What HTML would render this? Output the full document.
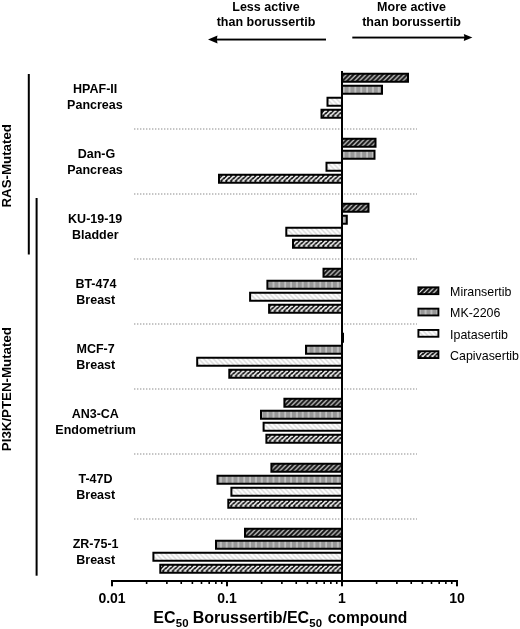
<!DOCTYPE html>
<html><head><meta charset="utf-8"><title>EC50 Borussertib chart</title>
<style>html,body{margin:0;padding:0;background:#fff;}svg{display:block;}</style></head>
<body><svg width="520" height="629" viewBox="0 0 520 629">
<rect width="520" height="629" fill="#fff"/>
<defs>
<pattern id="pm" patternUnits="userSpaceOnUse" x="3.85" width="4.85" height="4.85"><rect width="4.85" height="4.85" fill="#121212"/><path d="M-1,1 L1,-1 M0,4.85 L4.85,0 M3.8499999999999996,5.85 L5.85,3.8499999999999996" stroke="#f4f4f4" stroke-width="1.15"/></pattern>
<pattern id="pk" patternUnits="userSpaceOnUse" x="1.4" width="5.85" height="10"><rect width="5.85" height="10" fill="#979797"/><rect x="2.2" width="1.6" height="10" fill="#c6c6c6"/></pattern>
<pattern id="pi" patternUnits="userSpaceOnUse" width="4.85" height="4.85"><rect width="4.85" height="4.85" fill="#ffffff"/><path d="M-1,3.8499999999999996 L1,5.85 M0,0 L4.85,4.85 M3.8499999999999996,-1 L5.85,1" stroke="#d8d8d8" stroke-width="1.4"/></pattern>
<pattern id="pc" patternUnits="userSpaceOnUse" width="4.85" height="65"><rect width="4.85" height="65" fill="#111"/><path d="M-5.25,52.00 L1.75,45.00 M-0.40,52.00 L6.60,45.00 M4.45,52.00 L11.45,45.00" stroke="#ececec" stroke-width="1.6" fill="none"/><path d="M-5.10,49.70 L-2.80,52.00 M-0.25,49.70 L2.05,52.00 M-0.10,45.00 L1.80,46.90 M4.60,49.70 L6.90,52.00 M4.75,45.00 L6.65,46.90" stroke="#ececec" stroke-width="1.2" fill="none"/></pattern>
<pattern id="pcl" patternUnits="userSpaceOnUse" width="4.85" height="65"><rect width="4.85" height="65" fill="#111"/><path d="M-5.25,32.70 L1.75,25.70 M-0.40,32.70 L6.60,25.70 M4.45,32.70 L11.45,25.70" stroke="#ececec" stroke-width="1.4" fill="none"/><path d="M-5.10,30.40 L-2.80,32.70 M-0.25,30.40 L2.05,32.70 M-0.10,25.70 L1.80,27.60 M4.60,30.40 L6.90,32.70 M4.75,25.70 L6.65,27.60" stroke="#ececec" stroke-width="1.1" fill="none"/></pattern>
</defs>
<text x="266" y="11.3" text-anchor="middle" font-family="Liberation Sans, Arial, sans-serif" font-weight="bold" font-size="12.5">Less active</text>
<text x="266" y="26.4" text-anchor="middle" font-family="Liberation Sans, Arial, sans-serif" font-weight="bold" font-size="12.5">than borussertib</text>
<text x="411.5" y="11.3" text-anchor="middle" font-family="Liberation Sans, Arial, sans-serif" font-weight="bold" font-size="12.5">More active</text>
<text x="411.5" y="26.4" text-anchor="middle" font-family="Liberation Sans, Arial, sans-serif" font-weight="bold" font-size="12.5">than borussertib</text>
<rect x="215" y="38.6" width="111" height="1.9" fill="#000"/>
<path d="M208,39.5 L217.5,35.6 Q216,39.5 217.5,43.4 Z" fill="#000"/>
<rect x="352.3" y="36.6" width="113" height="1.9" fill="#000"/>
<path d="M472.4,37.5 L463.8,34.1 Q465.2,37.5 463.8,40.9 Z" fill="#000"/>
<line x1="134" y1="129" x2="417" y2="129" stroke="#8c8c8c" stroke-width="1.1" stroke-dasharray="1.4 1.6"/>
<line x1="134" y1="194" x2="417" y2="194" stroke="#8c8c8c" stroke-width="1.1" stroke-dasharray="1.4 1.6"/>
<line x1="134" y1="259" x2="417" y2="259" stroke="#8c8c8c" stroke-width="1.1" stroke-dasharray="1.4 1.6"/>
<line x1="134" y1="324" x2="417" y2="324" stroke="#8c8c8c" stroke-width="1.1" stroke-dasharray="1.4 1.6"/>
<line x1="134" y1="389" x2="417" y2="389" stroke="#8c8c8c" stroke-width="1.1" stroke-dasharray="1.4 1.6"/>
<line x1="134" y1="454" x2="417" y2="454" stroke="#8c8c8c" stroke-width="1.1" stroke-dasharray="1.4 1.6"/>
<line x1="134" y1="519" x2="417" y2="519" stroke="#8c8c8c" stroke-width="1.1" stroke-dasharray="1.4 1.6"/>
<rect x="342.00" y="73.75" width="66.00" height="8.00" fill="url(#pm)" stroke="#000" stroke-width="2.0"/>
<rect x="342.00" y="85.75" width="40.00" height="8.00" fill="url(#pk)" stroke="#000" stroke-width="2.0"/>
<rect x="327.50" y="97.75" width="14.50" height="8.00" fill="url(#pi)" stroke="#000" stroke-width="2.0"/>
<rect x="321.50" y="109.75" width="20.50" height="8.00" fill="url(#pc)" stroke="#000" stroke-width="2.0"/>
<rect x="342.00" y="138.75" width="33.50" height="8.00" fill="url(#pm)" stroke="#000" stroke-width="2.0"/>
<rect x="342.00" y="150.75" width="32.50" height="8.00" fill="url(#pk)" stroke="#000" stroke-width="2.0"/>
<rect x="326.50" y="162.75" width="15.50" height="8.00" fill="url(#pi)" stroke="#000" stroke-width="2.0"/>
<rect x="219.00" y="174.75" width="123.00" height="8.00" fill="url(#pc)" stroke="#000" stroke-width="2.0"/>
<rect x="342.00" y="203.75" width="26.50" height="8.00" fill="url(#pm)" stroke="#000" stroke-width="2.0"/>
<rect x="342.00" y="215.75" width="4.80" height="8.00" fill="url(#pk)" stroke="#000" stroke-width="2.0"/>
<rect x="286.30" y="227.75" width="55.70" height="8.00" fill="url(#pi)" stroke="#000" stroke-width="2.0"/>
<rect x="293.00" y="239.75" width="49.00" height="8.00" fill="url(#pc)" stroke="#000" stroke-width="2.0"/>
<rect x="323.50" y="268.75" width="18.50" height="8.00" fill="url(#pm)" stroke="#000" stroke-width="2.0"/>
<rect x="267.40" y="280.75" width="74.60" height="8.00" fill="url(#pk)" stroke="#000" stroke-width="2.0"/>
<rect x="250.10" y="292.75" width="91.90" height="8.00" fill="url(#pi)" stroke="#000" stroke-width="2.0"/>
<rect x="269.10" y="304.75" width="72.90" height="8.00" fill="url(#pc)" stroke="#000" stroke-width="2.0"/>
<rect x="341.00" y="332.75" width="3.00" height="10.00" fill="#000"/>
<rect x="306.00" y="345.75" width="36.00" height="8.00" fill="url(#pk)" stroke="#000" stroke-width="2.0"/>
<rect x="197.20" y="357.75" width="144.80" height="8.00" fill="url(#pi)" stroke="#000" stroke-width="2.0"/>
<rect x="229.30" y="369.75" width="112.70" height="8.00" fill="url(#pc)" stroke="#000" stroke-width="2.0"/>
<rect x="284.40" y="398.75" width="57.60" height="8.00" fill="url(#pm)" stroke="#000" stroke-width="2.0"/>
<rect x="261.00" y="410.75" width="81.00" height="8.00" fill="url(#pk)" stroke="#000" stroke-width="2.0"/>
<rect x="263.60" y="422.75" width="78.40" height="8.00" fill="url(#pi)" stroke="#000" stroke-width="2.0"/>
<rect x="266.40" y="434.75" width="75.60" height="8.00" fill="url(#pc)" stroke="#000" stroke-width="2.0"/>
<rect x="271.40" y="463.75" width="70.60" height="8.00" fill="url(#pm)" stroke="#000" stroke-width="2.0"/>
<rect x="217.50" y="475.75" width="124.50" height="8.00" fill="url(#pk)" stroke="#000" stroke-width="2.0"/>
<rect x="231.40" y="487.75" width="110.60" height="8.00" fill="url(#pi)" stroke="#000" stroke-width="2.0"/>
<rect x="228.30" y="499.75" width="113.70" height="8.00" fill="url(#pc)" stroke="#000" stroke-width="2.0"/>
<rect x="245.00" y="528.75" width="97.00" height="8.00" fill="url(#pm)" stroke="#000" stroke-width="2.0"/>
<rect x="216.00" y="540.75" width="126.00" height="8.00" fill="url(#pk)" stroke="#000" stroke-width="2.0"/>
<rect x="153.40" y="552.75" width="188.60" height="8.00" fill="url(#pi)" stroke="#000" stroke-width="2.0"/>
<rect x="160.30" y="564.75" width="181.70" height="8.00" fill="url(#pc)" stroke="#000" stroke-width="2.0"/>
<rect x="341" y="71" width="2" height="511" fill="#000"/>
<rect x="111" y="580" width="347" height="2" fill="#000"/>
<rect x="111.00" y="580" width="2" height="6.3" fill="#000"/>
<rect x="145.82" y="581" width="1.6" height="3" fill="#000"/>
<rect x="166.07" y="581" width="1.6" height="3" fill="#000"/>
<rect x="180.44" y="581" width="1.6" height="3" fill="#000"/>
<rect x="191.58" y="581" width="1.6" height="3" fill="#000"/>
<rect x="200.69" y="581" width="1.6" height="3" fill="#000"/>
<rect x="208.39" y="581" width="1.6" height="3" fill="#000"/>
<rect x="215.06" y="581" width="1.6" height="3" fill="#000"/>
<rect x="220.94" y="581" width="1.6" height="3" fill="#000"/>
<rect x="226.00" y="580" width="2" height="6.3" fill="#000"/>
<rect x="260.82" y="581" width="1.6" height="3" fill="#000"/>
<rect x="281.07" y="581" width="1.6" height="3" fill="#000"/>
<rect x="295.44" y="581" width="1.6" height="3" fill="#000"/>
<rect x="306.58" y="581" width="1.6" height="3" fill="#000"/>
<rect x="315.69" y="581" width="1.6" height="3" fill="#000"/>
<rect x="323.39" y="581" width="1.6" height="3" fill="#000"/>
<rect x="330.06" y="581" width="1.6" height="3" fill="#000"/>
<rect x="335.94" y="581" width="1.6" height="3" fill="#000"/>
<rect x="341.00" y="580" width="2" height="6.3" fill="#000"/>
<rect x="375.82" y="581" width="1.6" height="3" fill="#000"/>
<rect x="396.07" y="581" width="1.6" height="3" fill="#000"/>
<rect x="410.44" y="581" width="1.6" height="3" fill="#000"/>
<rect x="421.58" y="581" width="1.6" height="3" fill="#000"/>
<rect x="430.69" y="581" width="1.6" height="3" fill="#000"/>
<rect x="438.39" y="581" width="1.6" height="3" fill="#000"/>
<rect x="445.06" y="581" width="1.6" height="3" fill="#000"/>
<rect x="450.94" y="581" width="1.6" height="3" fill="#000"/>
<rect x="456.00" y="580" width="2" height="6.3" fill="#000"/>
<text x="112.00" y="602.7" text-anchor="middle" font-family="Liberation Sans, Arial, sans-serif" font-weight="bold" font-size="14">0.01</text>
<text x="227.00" y="602.7" text-anchor="middle" font-family="Liberation Sans, Arial, sans-serif" font-weight="bold" font-size="14">0.1</text>
<text x="342.00" y="602.7" text-anchor="middle" font-family="Liberation Sans, Arial, sans-serif" font-weight="bold" font-size="14">1</text>
<text x="457.00" y="602.7" text-anchor="middle" font-family="Liberation Sans, Arial, sans-serif" font-weight="bold" font-size="14">10</text>
<text x="153.3" y="623" font-family="Liberation Sans, Arial, sans-serif" font-weight="bold" font-size="16">EC</text>
<text x="175.8" y="627" font-family="Liberation Sans, Arial, sans-serif" font-weight="bold" font-size="11.4">50</text>
<text x="192.7" y="623" font-family="Liberation Sans, Arial, sans-serif" font-weight="bold" font-size="16">Borussertib/EC</text>
<text x="309.3" y="627" font-family="Liberation Sans, Arial, sans-serif" font-weight="bold" font-size="11.4">50</text>
<text x="327.7" y="623" font-family="Liberation Sans, Arial, sans-serif" font-weight="bold" font-size="15.6">compound</text>
<text x="95.15" y="92.8" text-anchor="middle" font-family="Liberation Sans, Arial, sans-serif" font-weight="bold" font-size="12.5">HPAF-II</text>
<text x="94.9" y="108.5" text-anchor="middle" font-family="Liberation Sans, Arial, sans-serif" font-weight="bold" font-size="12.5">Pancreas</text>
<text x="96.5" y="157.8" text-anchor="middle" font-family="Liberation Sans, Arial, sans-serif" font-weight="bold" font-size="12.5">Dan-G</text>
<text x="95.0" y="173.5" text-anchor="middle" font-family="Liberation Sans, Arial, sans-serif" font-weight="bold" font-size="12.5">Pancreas</text>
<text x="95.2" y="222.8" text-anchor="middle" font-family="Liberation Sans, Arial, sans-serif" font-weight="bold" font-size="12.5">KU-19-19</text>
<text x="95.3" y="238.5" text-anchor="middle" font-family="Liberation Sans, Arial, sans-serif" font-weight="bold" font-size="12.5">Bladder</text>
<text x="95.9" y="287.8" text-anchor="middle" font-family="Liberation Sans, Arial, sans-serif" font-weight="bold" font-size="12.5">BT-474</text>
<text x="95.8" y="303.5" text-anchor="middle" font-family="Liberation Sans, Arial, sans-serif" font-weight="bold" font-size="12.5">Breast</text>
<text x="95.65" y="352.8" text-anchor="middle" font-family="Liberation Sans, Arial, sans-serif" font-weight="bold" font-size="12.5">MCF-7</text>
<text x="95.8" y="368.5" text-anchor="middle" font-family="Liberation Sans, Arial, sans-serif" font-weight="bold" font-size="12.5">Breast</text>
<text x="95.3" y="417.8" text-anchor="middle" font-family="Liberation Sans, Arial, sans-serif" font-weight="bold" font-size="12.5">AN3-CA</text>
<text x="95.6" y="433.5" text-anchor="middle" font-family="Liberation Sans, Arial, sans-serif" font-weight="bold" font-size="12.5">Endometrium</text>
<text x="95.5" y="482.8" text-anchor="middle" font-family="Liberation Sans, Arial, sans-serif" font-weight="bold" font-size="12.5">T-47D</text>
<text x="95.7" y="498.5" text-anchor="middle" font-family="Liberation Sans, Arial, sans-serif" font-weight="bold" font-size="12.5">Breast</text>
<text x="95.6" y="547.8" text-anchor="middle" font-family="Liberation Sans, Arial, sans-serif" font-weight="bold" font-size="12.5">ZR-75-1</text>
<text x="95.75" y="563.5" text-anchor="middle" font-family="Liberation Sans, Arial, sans-serif" font-weight="bold" font-size="12.5">Breast</text>
<rect x="27.8" y="74" width="2" height="180.5" fill="#000"/>
<rect x="35.6" y="198" width="2" height="377.7" fill="#000"/>
<text transform="translate(11.0,165.8) rotate(-90)" text-anchor="middle" font-family="Liberation Sans, Arial, sans-serif" font-weight="bold" font-size="13.3">RAS-Mutated</text>
<text transform="translate(11.1,389.1) rotate(-90)" text-anchor="middle" font-family="Liberation Sans, Arial, sans-serif" font-weight="bold" font-size="13.3">PI3K/PTEN-Mutated</text>
<rect x="418.4" y="287.35" width="20" height="6.8" fill="url(#pm)" stroke="#000" stroke-width="1.9"/>
<text x="450.1" y="295.90" font-family="Liberation Sans, Arial, sans-serif" font-size="12.4">Miransertib</text>
<rect x="418.4" y="308.65" width="20" height="6.8" fill="url(#pk)" stroke="#000" stroke-width="1.9"/>
<text x="450.1" y="317.20" font-family="Liberation Sans, Arial, sans-serif" font-size="12.4">MK-2206</text>
<rect x="418.4" y="329.95" width="20" height="6.8" fill="url(#pi)" stroke="#000" stroke-width="1.9"/>
<text x="450.1" y="338.50" font-family="Liberation Sans, Arial, sans-serif" font-size="12.4">Ipatasertib</text>
<rect x="418.4" y="351.25" width="20" height="6.8" fill="url(#pcl)" stroke="#000" stroke-width="1.9"/>
<text x="450.1" y="359.80" font-family="Liberation Sans, Arial, sans-serif" font-size="12.4">Capivasertib</text>
</svg></body></html>
